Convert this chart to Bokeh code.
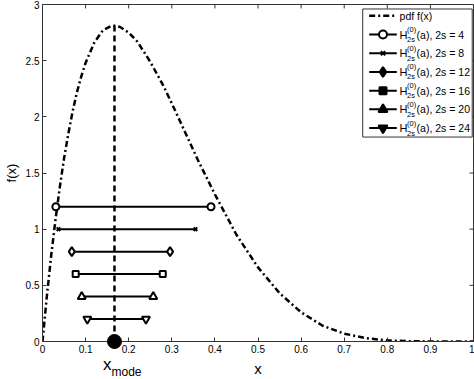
from bokeh.plotting import figure
from bokeh.models import Range1d, FixedTicker
from bokeh.core.properties import value
from bokeh.embed import file_html
from bokeh.resources import INLINE

# ---------------- data ----------------
x_pdf = [0, 0.01, 0.02, 0.03, 0.04, 0.05, 0.06, 0.07, 0.08, 0.09, 0.10, 0.12, 0.14,
         0.16, 0.167, 0.18, 0.20, 0.22, 0.25, 0.28, 0.30, 0.33, 0.36, 0.40, 0.45,
         0.50, 0.55, 0.60, 0.65, 0.70, 0.75, 0.80, 0.85, 0.90, 0.95, 1.0]
f_pdf = [0, 0.40, 0.76, 1.08, 1.37, 1.63, 1.85, 2.05, 2.22, 2.36, 2.48, 2.66, 2.77,
         2.81, 2.81, 2.80, 2.75, 2.67, 2.49, 2.28, 2.12, 1.87, 1.62, 1.31, 0.95,
         0.66, 0.43, 0.26, 0.14, 0.07, 0.03, 0.01, 0.003, 0.0004, 0.0, 0.0]

two_s = [4, 8, 12, 16, 20, 24]
h_level = [1.2, 1.0, 0.8, 0.6, 0.4, 0.2]
h_lo = [0.031, 0.037, 0.068, 0.077, 0.091, 0.104]
h_hi = [0.391, 0.355, 0.296, 0.279, 0.257, 0.240]
h_marker = ["circle", "x", "diamond", "square", "triangle", "inverted_triangle"]
h_msize = [7, 5, 9, 6, 8, 8]
h_legend_fill = ["white", "black", "black", "black", "black", "black"]

x_mode = 0.167
f_mode = 2.81

x_ticks = [0, 0.1, 0.2, 0.3, 0.4, 0.5, 0.6, 0.7, 0.8, 0.9, 1.0]
x_tick_labels = ["0", "0.1", "0.2", "0.3", "0.4", "0.5", "0.6", "0.7", "0.8", "0.9", "1"]
y_ticks = [0, 0.5, 1.0, 1.5, 2.0, 2.5, 3.0]
y_tick_labels = ["0", "0.5", "1", "1.5", "2", "2.5", "3"]

FONT = "Liberation Sans"
AXC = "#333333"
X_MIN, X_MAX, Y_MIN, Y_MAX = 0, 1, 0, 3

p = figure(width=474, height=379, output_backend="svg", toolbar_location=None,
           x_range=Range1d(X_MIN, X_MAX), y_range=Range1d(Y_MIN, Y_MAX),
           min_border_left=41, min_border_right=1, min_border_top=4, min_border_bottom=36)
p.xgrid.visible = False
p.ygrid.visible = False
p.outline_line_color = AXC
p.background_fill_color = "white"
p.border_fill_color = "white"

for ax, ticks, labs in ((p.xaxis[0], x_ticks, x_tick_labels), (p.yaxis[0], y_ticks, y_tick_labels)):
    ax.ticker = FixedTicker(ticks=ticks)
    ax.major_label_overrides = dict(zip(ticks, labs))
    ax.major_tick_in = 4
    ax.major_tick_out = 0
    ax.minor_tick_line_color = None
    ax.axis_line_color = AXC
    ax.major_tick_line_color = AXC
    ax.major_label_text_font = FONT
    ax.major_label_text_font_size = "10px"
    ax.major_label_text_color = "black"
    ax.axis_label_text_font = FONT
    ax.axis_label_text_font_style = "normal"
    ax.axis_label_text_color = "black"
    ax.major_label_standoff = 3

p.xaxis.axis_label = "x"
p.xaxis.axis_label_text_font_size = "15px"
p.xaxis.axis_label_standoff = 4
p.yaxis.axis_label = "f(x)"
p.yaxis.axis_label_text_font_size = "13px"
p.yaxis.axis_label_standoff = 4

# mirrored inward ticks on the top and right frame edges (4 px long)
tick_dy = 4 * (Y_MAX - Y_MIN) / 339
tick_dx = 4 * (X_MAX - X_MIN) / 432
p.segment(x0=x_ticks, y0=[Y_MAX] * len(x_ticks), x1=x_ticks, y1=[Y_MAX - tick_dy] * len(x_ticks),
          line_color=AXC, line_width=1)
p.segment(x0=[X_MAX] * len(y_ticks), y0=y_ticks, x1=[X_MAX - tick_dx] * len(y_ticks), y1=y_ticks,
          line_color=AXC, line_width=1)

# pdf curve
p.line(x_pdf, f_pdf, line_color="black", line_width=2.5, line_dash="6 3 2 3")

# mode line
p.line([x_mode, x_mode], [0, f_mode], line_color="black", line_width=2.5, line_dash="6 4")

# intervals
for lo, hi, lev, mk, ms in zip(h_lo, h_hi, h_level, h_marker, h_msize):
    p.line([lo, hi], [lev, lev], line_color="black", line_width=2)
    p.scatter([lo, hi], [lev, lev], marker=mk, size=ms, line_color="black",
              line_width=2, fill_color="white")

p.scatter([x_mode], [0], marker="circle", size=14, fill_color="black",
          line_color="black", level="overlay")

# x_mode label (below the axis)
p.text([x_mode], [0], text=["x"], x_offset=-3, y_offset=23, text_align="right",
       text_baseline="middle", text_font=value(FONT), text_font_size="17px", level="overlay")
p.text([x_mode], [0], text=["mode"], x_offset=-3, y_offset=30, text_align="left",
       text_baseline="middle", text_font=value(FONT), text_font_size="12px", level="overlay")

# ---------------- legend ----------------
LEG_L, LEG_R, LEG_T, LEG_B = 0.743, 0.997, 2.96, 1.82
ROW0, ROW_STEP = 2.899, 0.1665
SAMP_L, SAMP_R, SAMP_M, TXT_X = 0.758, 0.822, 0.790, 0.8285
p.quad(left=[LEG_L], right=[LEG_R], top=[LEG_T], bottom=[LEG_B],
       fill_color="white", line_color=AXC, line_width=1)

p.line([SAMP_L, SAMP_R], [ROW0, ROW0], line_color="black", line_width=2.5, line_dash="6 3 2 3")
p.text([TXT_X], [ROW0], text=["pdf f(x)"], text_baseline="middle",
       text_font=value(FONT), text_font_size="10.5px")

for i, (v, mk, ms, fc) in enumerate(zip(two_s, h_marker, h_msize, h_legend_fill)):
    ry = ROW0 - ROW_STEP * (i + 1)
    p.line([SAMP_L, SAMP_R], [ry, ry], line_color="black", line_width=2)
    p.scatter([SAMP_M], [ry], marker=mk, size=ms + 1, line_color="black", line_width=2,
              fill_color=fc)
    p.text([TXT_X], [ry], text=["H"], text_baseline="middle",
           text_font=value(FONT), text_font_size="11px")
    p.text([TXT_X], [ry], x_offset=7.5, y_offset=-5, text=["(0)"], text_baseline="middle",
           text_font=value(FONT), text_font_size="7.5px")
    p.text([TXT_X], [ry], x_offset=7.5, y_offset=5, text=["2s"], text_baseline="middle",
           text_font=value(FONT), text_font_size="7.5px")
    p.text([TXT_X], [ry], x_offset=17, text=[f"(a), 2s = {v}"], text_baseline="middle",
           text_font=value(FONT), text_font_size="10.5px")

open("out.html", "w").write(file_html(p, INLINE))
